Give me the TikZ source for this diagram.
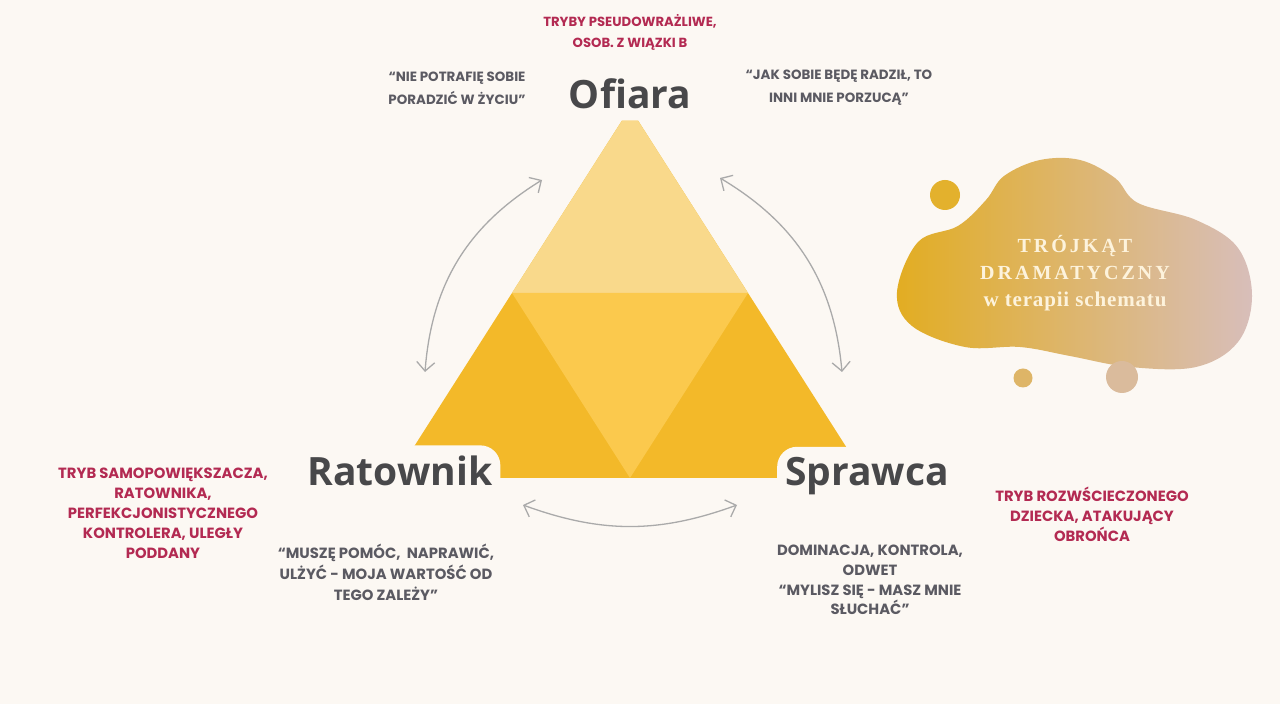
\documentclass[tikz,border=0pt]{standalone}
\usepackage{fontspec}
\usetikzlibrary{arrows.meta,calc,positioning}
\newfontfamily\headfont{Open Sans}
\newfontfamily\capsfont{Poppins}
\newfontfamily\titlefont{Liberation Serif}[LetterSpace=15]
\newfontfamily\subtitlefont{Liberation Serif}[LetterSpace=4]
\definecolor{bg}{HTML}{FCF8F3}
\definecolor{tritopc}{HTML}{F9D98B}
\definecolor{trimidc}{HTML}{FBC94D}
\definecolor{tribasec}{HTML}{F3B929}
\definecolor{headgray}{HTML}{48484A}
\definecolor{quotegray}{HTML}{5B5A62}
\definecolor{modered}{HTML}{B32A52}
\definecolor{arrowgray}{HTML}{AAAAAA}
\definecolor{cloudgold}{HTML}{E2AD22}
\definecolor{cloudpink}{HTML}{D8BEBA}
\definecolor{titlecream}{HTML}{FDF3DC}
\tikzset{
  role/.style={font=\headfont\bfseries\fontsize{19.5}{22}\selectfont, text=headgray, fill=bg, rounded corners=10pt, inner xsep=4pt, inner ysep=5.5pt},
  modetext/.style={font=\capsfont\bfseries\fontsize{7.4}{10}\selectfont, text=modered, align=center},
  quotetext/.style={font=\capsfont\bfseries\fontsize{7.4}{10.5}\selectfont, text=quotegray, align=center},
  cyclearrow/.style={draw=arrowgray, line width=0.65pt, {Straight Barb[length=4.5pt,width=9pt]}-{Straight Barb[length=4.5pt,width=9pt]}},
}
\begin{document}
\begin{tikzpicture}[x=0.5pt,y=-0.5pt]
\fill[bg] (0,0) rectangle (1280,704);
\useasboundingbox (0,0) rectangle (1280,704);

\path (630,108) coordinate(apex) (394,478) coordinate(bl) (866,478) coordinate(br);
\path ($(apex)!0.5!(bl)$) coordinate(ml) ($(apex)!0.5!(br)$) coordinate(mr) ($(bl)!0.5!(br)$) coordinate(mb);
\fill[tribasec] (bl) -- (br) -- (apex) -- cycle;
\fill[tritopc] (apex) -- (ml) -- (mr) -- cycle;
\fill[trimidc] (ml) -- (mr) -- (mb) -- cycle;

\node[role, anchor=base] (ofiara) at (630,109) {Ofiara};
\node[role, anchor=base] (ratownik) at (400,486) {Ratownik};
\node[role, anchor=base] (sprawca) at (867,486) {Sprawca};

\coordinate (la) at (425,372);
\coordinate (lb) at (542,180);
\coordinate (ra) at (720,178);
\coordinate (rb) at (842,372);
\coordinate (ba) at (523,505);
\coordinate (bb) at (737,505);
\draw[cyclearrow] (la) to[bend left=27] (lb);
\draw[cyclearrow] (ra) to[bend left=27] (rb);
\draw[cyclearrow] (ba) to[bend right=20] (bb);

\node[modetext, font=\capsfont\bfseries\fontsize{6.6}{10.5}\selectfont] (ofiaramode) at (630,32) {TRYBY PSEUDOWRAŻLIWE,\\OSOB. Z WIĄZKI B};
\node[quotetext, font=\capsfont\bfseries\fontsize{6.7}{11.5}\selectfont] (ofiaraq1) at (457,88) {“NIE POTRAFIĘ SOBIE\\PORADZIĆ W ŻYCIU”};
\node[quotetext, font=\capsfont\bfseries\fontsize{6.7}{11.5}\selectfont] (ofiaraq2) at (839,88) {“JAK SOBIE BĘDĘ RADZIŁ, TO\\INNI MNIE PORZUCĄ”};
\node[modetext] (ratownikmode) at (163,513) {TRYB SAMOPOWIĘKSZACZA,\\RATOWNIKA,\\PERFEKCJONISTYCZNEGO\\KONTROLERA, ULEGŁY\\PODDANY};
\node[quotetext] (ratownikq) at (386,572) {“MUSZĘ POMÓC,~~NAPRAWIĆ,\\ULŻYĆ - MOJA WARTOŚĆ OD\\TEGO ZALEŻY”};
\node[modetext] (sprawcamode) at (1092,514) {TRYB ROZWŚCIECZONEGO\\DZIECKA, ATAKUJĄCY\\OBROŃCA};
\node[quotetext, font=\capsfont\bfseries\fontsize{7.4}{9.8}\selectfont] (sprawcaq) at (870,580) {DOMINACJA, KONTROLA,\\ODWET\\“MYLISZ SIĘ - MASZ MNIE\\SŁUCHAĆ”};

% chmurka z tytulem
\shade[left color=cloudgold, right color=cloudpink] plot[smooth cycle, tension=0.6] coordinates {
  (897,292) (918,242) (958,226) (986,200) (1004,176) (1040,160) (1080,160) (1115,178) (1138,203)
  (1196,220) (1238,248) (1252,296) (1238,342) (1196,367) (1130,367) (1070,356) (1020,347) (965,347) (912,326)};
\fill[cloudgold!95!white] (945,195) circle[radius=15];
\fill[cloudgold!55!cloudpink] (1023,378) circle[radius=9.5];
\fill[cloudgold!20!cloudpink] (1122,377) circle[radius=16];
\node[text=titlecream, align=center, font=\titlefont\bfseries\fontsize{10}{13.5}\selectfont] (title) at (1075,273)
  {TRÓJKĄT\\DRAMATYCZNY\\{\subtitlefont\bfseries\fontsize{10.5}{12}\selectfont w terapii schematu}};
\end{tikzpicture}
\end{document}
